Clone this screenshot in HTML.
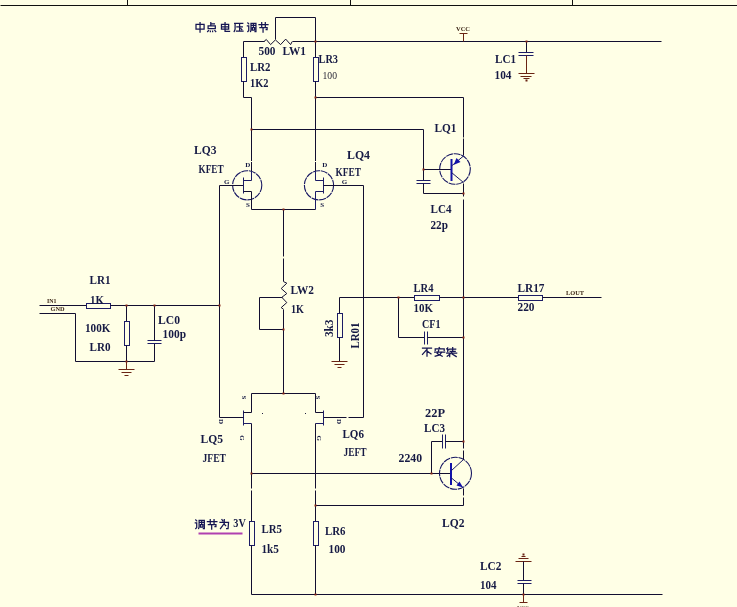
<!DOCTYPE html>
<html><head><meta charset="utf-8"><style>
html,body{margin:0;padding:0;background:#FFFFE6;}
svg{display:block;will-change:transform;}
</style></head><body>
<svg width="737" height="607" viewBox="0 0 737 607">
<rect width="737" height="607" fill="#FFFFE6"/>
<line x1="0.5" y1="5.5" x2="737.5" y2="5.5" stroke="#101010" stroke-width="1"/>
<line x1="127.5" y1="-1" x2="127.5" y2="5.5" stroke="#101010" stroke-width="1"/>
<line x1="350.5" y1="-1" x2="350.5" y2="5.5" stroke="#101010" stroke-width="1"/>
<line x1="572.5" y1="-1" x2="572.5" y2="5.5" stroke="#101010" stroke-width="1"/>
<polyline points="275.5,39.5 275.5,17.5 315.5,17.5 315.5,57.5" fill="none" stroke="#120e30" stroke-width="1"/>
<line x1="243.5" y1="41.5" x2="264.5" y2="41.5" stroke="#120e30" stroke-width="1"/>
<polyline points="264,41.5 266.3,39.5 270.6,44.6 275.4,39.9 280.6,44.6 285.7,39.1 290.6,44.6 292.2,41.5" fill="none" stroke="#120e30" stroke-width="1"/>
<line x1="292.5" y1="41.5" x2="661.5" y2="41.5" stroke="#120e30" stroke-width="1"/>
<line x1="243.5" y1="41.5" x2="243.5" y2="57.5" stroke="#120e30" stroke-width="1"/>
<rect x="241.5" y="57.5" width="5" height="24" fill="none" stroke="#1c1c66" stroke-width="1"/>
<polyline points="243.5,81.5 243.5,97.5 251.5,97.5 251.5,171.5" fill="none" stroke="#120e30" stroke-width="1"/>
<rect x="313.5" y="57.5" width="5" height="24" fill="none" stroke="#1c1c66" stroke-width="1"/>
<line x1="315.5" y1="81.5" x2="315.5" y2="171.5" stroke="#120e30" stroke-width="1"/>
<polyline points="315.5,97.5 463.5,97.5 463.5,137.5" fill="none" stroke="#120e30" stroke-width="1"/>
<line x1="463.5" y1="138.5" x2="463.5" y2="155.5" stroke="#120e30" stroke-width="1"/>
<polyline points="251.5,129.5 423.5,129.5 423.5,180.5" fill="none" stroke="#120e30" stroke-width="1"/>
<line x1="416.5" y1="180.5" x2="430.5" y2="180.5" stroke="#1c1c66" stroke-width="1"/>
<line x1="416.5" y1="183.5" x2="430.5" y2="183.5" stroke="#1c1c66" stroke-width="1"/>
<polyline points="423.5,183.5 423.5,193.5 463.5,193.5" fill="none" stroke="#120e30" stroke-width="1"/>
<line x1="526.5" y1="41.5" x2="526.5" y2="52.5" stroke="#120e30" stroke-width="1"/>
<line x1="518.5" y1="52.5" x2="533.5" y2="52.5" stroke="#1c1c66" stroke-width="1"/>
<line x1="518.5" y1="55.5" x2="533.5" y2="55.5" stroke="#1c1c66" stroke-width="1"/>
<line x1="526.5" y1="55.5" x2="526.5" y2="73.5" stroke="#6a2414" stroke-width="1"/>
<line x1="518.5" y1="73.5" x2="534.5" y2="73.5" stroke="#6a2414" stroke-width="1"/>
<line x1="520.5" y1="76.5" x2="531.5" y2="76.5" stroke="#6a2414" stroke-width="1"/>
<line x1="523.5" y1="78.5" x2="529.5" y2="78.5" stroke="#6a2414" stroke-width="1"/>
<rect x="525.5" y="79.5" width="2" height="2" fill="#6a2414"/>
<line x1="459.5" y1="33.5" x2="467.5" y2="33.5" stroke="#6a2414" stroke-width="1"/>
<line x1="463.5" y1="33.5" x2="463.5" y2="41.5" stroke="#6a2414" stroke-width="1"/>
<text x="456" y="31" font-family="Liberation Serif" font-size="6" font-weight="bold" fill="#3a2414" textLength="14" lengthAdjust="spacingAndGlyphs">VCC</text>
<circle cx="247.2" cy="185.3" r="14.6" fill="none" stroke="#161662" stroke-width="1.1" stroke-dasharray="7 0.8"/>
<polyline points="219.5,417.5 219.5,185.5 243.5,185.5" fill="none" stroke="#120e30" stroke-width="1"/>
<line x1="243.5" y1="177.5" x2="243.5" y2="193.5" stroke="#1c1c66" stroke-width="1"/>
<polyline points="243.5,180.5 251.5,180.5 251.5,171.5" fill="none" stroke="#1c1c66" stroke-width="1"/>
<polyline points="243.5,191.5 251.5,191.5 251.5,209.5 315.5,209.5" fill="none" stroke="#120e30" stroke-width="1"/>
<circle cx="319" cy="185.3" r="14.6" fill="none" stroke="#161662" stroke-width="1.1" stroke-dasharray="7 0.8"/>
<polyline points="315.5,171.5 315.5,180.5 323.5,180.5" fill="none" stroke="#1c1c66" stroke-width="1"/>
<line x1="323.5" y1="177.5" x2="323.5" y2="193.5" stroke="#1c1c66" stroke-width="1"/>
<polyline points="323.5,191.5 315.5,191.5 315.5,209.5" fill="none" stroke="#1c1c66" stroke-width="1"/>
<polyline points="323.5,185.5 363.5,185.5 363.5,417.5 348.5,417.5" fill="none" stroke="#120e30" stroke-width="1"/>
<line x1="346.5" y1="417.5" x2="323.5" y2="417.5" stroke="#120e30" stroke-width="1"/>
<circle cx="455" cy="169" r="15.3" fill="none" stroke="#161662" stroke-width="1.1" stroke-dasharray="7 0.8"/>
<line x1="423.5" y1="169.5" x2="451.5" y2="169.5" stroke="#120e30" stroke-width="1"/>
<line x1="451.5" y1="159" x2="451.5" y2="181" stroke="#1212a8" stroke-width="2"/>
<line x1="451.5" y1="166" x2="463.5" y2="156" stroke="#1c1c66" stroke-width="1"/>
<line x1="451.5" y1="172.5" x2="463.5" y2="182.5" stroke="#1c1c66" stroke-width="1"/>
<polygon points="453.5,165 456.5,158 460.5,162" fill="#1212a8"/>
<polyline points="463.5,183.5 463.5,196.5" fill="none" stroke="#120e30" stroke-width="1"/>
<line x1="463.5" y1="199.5" x2="463.5" y2="448.5" stroke="#120e30" stroke-width="1"/>
<line x1="283.5" y1="209.5" x2="283.5" y2="256.5" stroke="#120e30" stroke-width="1"/>
<line x1="283.5" y1="258.5" x2="283.5" y2="281.5" stroke="#120e30" stroke-width="1"/>
<polyline points="283.5,281.6 286.8,283.2 281.2,288.5 286.8,293.5 281.8,297.3 286.8,302.6 281.2,307.6 283.5,309.2" fill="none" stroke="#120e30" stroke-width="1"/>
<line x1="283.5" y1="309.5" x2="283.5" y2="393.5" stroke="#120e30" stroke-width="1"/>
<polyline points="282.5,297.5 259.5,297.5 259.5,329.5 283.5,329.5" fill="none" stroke="#120e30" stroke-width="1"/>
<line x1="39.5" y1="305.5" x2="86.5" y2="305.5" stroke="#120e30" stroke-width="1"/>
<rect x="86.5" y="303.5" width="24" height="5" fill="none" stroke="#1c1c66" stroke-width="1"/>
<line x1="110.5" y1="305.5" x2="219.5" y2="305.5" stroke="#120e30" stroke-width="1"/>
<line x1="126.5" y1="305.5" x2="126.5" y2="321.5" stroke="#120e30" stroke-width="1"/>
<rect x="124.5" y="321.5" width="5" height="24" fill="none" stroke="#1c1c66" stroke-width="1"/>
<line x1="126.5" y1="345.5" x2="126.5" y2="361.5" stroke="#120e30" stroke-width="1"/>
<line x1="126.5" y1="361.5" x2="126.5" y2="369.5" stroke="#6a2414" stroke-width="1"/>
<line x1="118.5" y1="369.5" x2="134.5" y2="369.5" stroke="#6a2414" stroke-width="1"/>
<line x1="121.5" y1="372.5" x2="131.5" y2="372.5" stroke="#6a2414" stroke-width="1"/>
<line x1="124.5" y1="375.5" x2="128.5" y2="375.5" stroke="#6a2414" stroke-width="1"/>
<polyline points="39.5,313.5 75.5,313.5 75.5,361.5 154.5,361.5 154.5,343.5" fill="none" stroke="#120e30" stroke-width="1"/>
<line x1="147.5" y1="340.5" x2="161.5" y2="340.5" stroke="#1c1c66" stroke-width="1"/>
<line x1="147.5" y1="343.5" x2="161.5" y2="343.5" stroke="#1c1c66" stroke-width="1"/>
<line x1="154.5" y1="340.5" x2="154.5" y2="305.5" stroke="#120e30" stroke-width="1"/>
<text x="47" y="302.5" font-family="Liberation Serif" font-size="6" font-weight="bold" fill="#3a2414" textLength="9.5" lengthAdjust="spacingAndGlyphs">IN1</text>
<text x="50.5" y="310.5" font-family="Liberation Serif" font-size="6" font-weight="bold" fill="#3a2414" textLength="14" lengthAdjust="spacingAndGlyphs">GND</text>
<line x1="339.5" y1="297.5" x2="414.5" y2="297.5" stroke="#120e30" stroke-width="1"/>
<rect x="414.5" y="295.5" width="25" height="5" fill="none" stroke="#1c1c66" stroke-width="1"/>
<line x1="439.5" y1="297.5" x2="518.5" y2="297.5" stroke="#120e30" stroke-width="1"/>
<rect x="518.5" y="295.5" width="24" height="5" fill="none" stroke="#1c1c66" stroke-width="1"/>
<line x1="542.5" y1="297.5" x2="601.5" y2="297.5" stroke="#120e30" stroke-width="1"/>
<line x1="339.5" y1="297.5" x2="339.5" y2="313.5" stroke="#120e30" stroke-width="1"/>
<rect x="337.5" y="313.5" width="5" height="24" fill="none" stroke="#1c1c66" stroke-width="1"/>
<line x1="339.5" y1="337.5" x2="339.5" y2="361.5" stroke="#120e30" stroke-width="1"/>
<line x1="331.5" y1="361.5" x2="347.5" y2="361.5" stroke="#6a2414" stroke-width="1"/>
<line x1="334.5" y1="364.5" x2="344.5" y2="364.5" stroke="#6a2414" stroke-width="1"/>
<line x1="337.5" y1="367.5" x2="341.5" y2="367.5" stroke="#6a2414" stroke-width="1"/>
<polyline points="398.5,297.5 398.5,337.5 424.5,337.5" fill="none" stroke="#120e30" stroke-width="1"/>
<line x1="424.5" y1="331.5" x2="424.5" y2="344.5" stroke="#1c1c66" stroke-width="1"/>
<line x1="427.5" y1="331.5" x2="427.5" y2="344.5" stroke="#1c1c66" stroke-width="1"/>
<line x1="427.5" y1="337.5" x2="463.5" y2="337.5" stroke="#120e30" stroke-width="1"/>
<polyline points="251.5,423.5 243.5,423.5" fill="none" stroke="#1c1c66" stroke-width="1"/>
<line x1="243.5" y1="410.5" x2="243.5" y2="425.5" stroke="#1c1c66" stroke-width="1"/>
<polyline points="243.5,412.5 251.5,412.5 251.5,393.5 315.5,393.5 315.5,412.5 323.5,412.5" fill="none" stroke="#120e30" stroke-width="1"/>
<line x1="219.5" y1="417.5" x2="243.5" y2="417.5" stroke="#120e30" stroke-width="1"/>
<line x1="323.5" y1="410.5" x2="323.5" y2="425.5" stroke="#1c1c66" stroke-width="1"/>
<polyline points="323.5,423.5 315.5,423.5" fill="none" stroke="#1c1c66" stroke-width="1"/>
<line x1="251.5" y1="423.5" x2="251.5" y2="488.5" stroke="#120e30" stroke-width="1"/>
<line x1="251.5" y1="490.5" x2="251.5" y2="521.5" stroke="#120e30" stroke-width="1"/>
<rect x="249.5" y="521.5" width="5" height="24" fill="none" stroke="#1c1c66" stroke-width="1"/>
<line x1="251.5" y1="545.5" x2="251.5" y2="594.5" stroke="#120e30" stroke-width="1"/>
<line x1="315.5" y1="423.5" x2="315.5" y2="488.5" stroke="#120e30" stroke-width="1"/>
<line x1="315.5" y1="490.5" x2="315.5" y2="521.5" stroke="#120e30" stroke-width="1"/>
<rect x="313.5" y="521.5" width="5" height="24" fill="none" stroke="#1c1c66" stroke-width="1"/>
<line x1="315.5" y1="545.5" x2="315.5" y2="594.5" stroke="#120e30" stroke-width="1"/>
<line x1="251.5" y1="594.5" x2="662.5" y2="594.5" stroke="#120e30" stroke-width="1"/>
<line x1="251.5" y1="473.5" x2="451.5" y2="473.5" stroke="#120e30" stroke-width="1"/>
<polyline points="431.5,473.5 431.5,441.5 442.5,441.5" fill="none" stroke="#120e30" stroke-width="1"/>
<line x1="442.5" y1="434.5" x2="442.5" y2="448.5" stroke="#1c1c66" stroke-width="1"/>
<line x1="445.5" y1="434.5" x2="445.5" y2="448.5" stroke="#1c1c66" stroke-width="1"/>
<line x1="445.5" y1="441.5" x2="463.5" y2="441.5" stroke="#120e30" stroke-width="1"/>
<circle cx="455.5" cy="473.3" r="16" fill="none" stroke="#161662" stroke-width="1.1" stroke-dasharray="7 0.8"/>
<line x1="451" y1="463" x2="451" y2="485" stroke="#1212a8" stroke-width="2"/>
<line x1="451.5" y1="470.5" x2="463.5" y2="459.5" stroke="#1c1c66" stroke-width="1"/>
<line x1="451.5" y1="478" x2="463.5" y2="488" stroke="#1c1c66" stroke-width="1"/>
<polygon points="459.5,481.5 463,487.5 456.5,485.5" fill="#1212a8"/>
<line x1="463.5" y1="450.5" x2="463.5" y2="459.5" stroke="#120e30" stroke-width="1"/>
<line x1="463.5" y1="488.5" x2="463.5" y2="495.5" stroke="#120e30" stroke-width="1"/>
<line x1="463.5" y1="497.5" x2="463.5" y2="505.5" stroke="#120e30" stroke-width="1"/>
<line x1="315.5" y1="505.5" x2="463.5" y2="505.5" stroke="#120e30" stroke-width="1"/>
<line x1="515.5" y1="561.5" x2="531.5" y2="561.5" stroke="#6a2414" stroke-width="1"/>
<line x1="518.5" y1="558.5" x2="528.5" y2="558.5" stroke="#6a2414" stroke-width="1"/>
<line x1="521.5" y1="556.5" x2="525.5" y2="556.5" stroke="#6a2414" stroke-width="1"/>
<rect x="522.5" y="553.5" width="2" height="2" fill="#6a2414"/>
<line x1="523.5" y1="561.5" x2="523.5" y2="580.5" stroke="#120e30" stroke-width="1"/>
<line x1="517.5" y1="580.5" x2="531.5" y2="580.5" stroke="#1c1c66" stroke-width="1"/>
<line x1="517.5" y1="583.5" x2="531.5" y2="583.5" stroke="#1c1c66" stroke-width="1"/>
<line x1="523.5" y1="583.5" x2="523.5" y2="594.5" stroke="#120e30" stroke-width="1"/>
<line x1="523.5" y1="594.5" x2="523.5" y2="602.5" stroke="#6a2414" stroke-width="1"/>
<line x1="519.5" y1="602.5" x2="527.5" y2="602.5" stroke="#6a2414" stroke-width="1"/>
<text x="517" y="610" font-family="Liberation Serif" font-size="7" font-weight="bold" fill="#6a5040" textLength="12" lengthAdjust="spacingAndGlyphs">VSS</text>
<rect x="251" y="161" width="1" height="1" fill="#FFFFE6"/>
<rect x="315" y="161" width="1" height="1" fill="#FFFFE6"/>
<rect x="314.5" y="40.5" width="2" height="2" fill="#8a2a18"/>
<rect x="525.5" y="40.5" width="2" height="2" fill="#8a2a18"/>
<rect x="250.5" y="128.5" width="2" height="2" fill="#8a2a18"/>
<rect x="314.5" y="96.5" width="2" height="2" fill="#8a2a18"/>
<rect x="422.5" y="168.5" width="2" height="2" fill="#8a2a18"/>
<rect x="462.5" y="192.5" width="2" height="2" fill="#8a2a18"/>
<rect x="282.5" y="208.5" width="2" height="2" fill="#8a2a18"/>
<rect x="218.5" y="304.5" width="2" height="2" fill="#8a2a18"/>
<rect x="125.5" y="304.5" width="2" height="2" fill="#8a2a18"/>
<rect x="153.5" y="304.5" width="2" height="2" fill="#8a2a18"/>
<rect x="282.5" y="328.5" width="2" height="2" fill="#8a2a18"/>
<rect x="397.5" y="296.5" width="2" height="2" fill="#8a2a18"/>
<rect x="462.5" y="296.5" width="2" height="2" fill="#8a2a18"/>
<rect x="462.5" y="336.5" width="2" height="2" fill="#8a2a18"/>
<rect x="282.5" y="392.5" width="2" height="2" fill="#8a2a18"/>
<rect x="462.5" y="440.5" width="2" height="2" fill="#8a2a18"/>
<rect x="430.5" y="472.5" width="2" height="2" fill="#8a2a18"/>
<rect x="250.5" y="472.5" width="2" height="2" fill="#8a2a18"/>
<rect x="314.5" y="504.5" width="2" height="2" fill="#8a2a18"/>
<rect x="314.5" y="593.5" width="2" height="2" fill="#8a2a18"/>
<rect x="522.5" y="593.5" width="2" height="2" fill="#8a2a18"/>
<rect x="125.5" y="360.5" width="2" height="2" fill="#8a2a18"/>
<text x="258.5" y="55" font-family="Liberation Serif" font-size="12" font-weight="bold" fill="#161a44" textLength="17" lengthAdjust="spacingAndGlyphs">500</text>
<text x="282.5" y="55" font-family="Liberation Serif" font-size="12" font-weight="bold" fill="#161a44" textLength="23.5" lengthAdjust="spacingAndGlyphs">LW1</text>
<text x="250" y="71" font-family="Liberation Serif" font-size="12" font-weight="bold" fill="#161a44" textLength="20.5" lengthAdjust="spacingAndGlyphs">LR2</text>
<text x="250" y="87" font-family="Liberation Serif" font-size="12" font-weight="bold" fill="#161a44" textLength="18.5" lengthAdjust="spacingAndGlyphs">1K2</text>
<text x="318.5" y="63" font-family="Liberation Serif" font-size="12" font-weight="bold" fill="#161a44" textLength="19.5" lengthAdjust="spacingAndGlyphs">LR3</text>
<text x="322.5" y="79" font-family="Liberation Serif" font-size="10" font-weight="normal" fill="#2a2838" textLength="14.5" lengthAdjust="spacingAndGlyphs">100</text>
<text x="495" y="62.5" font-family="Liberation Serif" font-size="12" font-weight="bold" fill="#161a44" textLength="21" lengthAdjust="spacingAndGlyphs">LC1</text>
<text x="494.5" y="79" font-family="Liberation Serif" font-size="12" font-weight="bold" fill="#161a44" textLength="17" lengthAdjust="spacingAndGlyphs">104</text>
<text x="194" y="154" font-family="Liberation Serif" font-size="12" font-weight="bold" fill="#161a44" textLength="22.5" lengthAdjust="spacingAndGlyphs">LQ3</text>
<text x="198.5" y="173" font-family="Liberation Serif" font-size="12" font-weight="bold" fill="#161a44" textLength="25" lengthAdjust="spacingAndGlyphs">KFET</text>
<text x="347" y="159" font-family="Liberation Serif" font-size="12" font-weight="bold" fill="#161a44" textLength="23" lengthAdjust="spacingAndGlyphs">LQ4</text>
<text x="335.5" y="176" font-family="Liberation Serif" font-size="12" font-weight="bold" fill="#161a44" textLength="25.5" lengthAdjust="spacingAndGlyphs">KFET</text>
<text x="434.5" y="132" font-family="Liberation Serif" font-size="12" font-weight="bold" fill="#161a44" textLength="22" lengthAdjust="spacingAndGlyphs">LQ1</text>
<text x="430.5" y="212.5" font-family="Liberation Serif" font-size="12" font-weight="bold" fill="#161a44" textLength="21" lengthAdjust="spacingAndGlyphs">LC4</text>
<text x="430.5" y="229" font-family="Liberation Serif" font-size="12" font-weight="bold" fill="#161a44" textLength="17.5" lengthAdjust="spacingAndGlyphs">22p</text>
<text x="89.5" y="284" font-family="Liberation Serif" font-size="12" font-weight="bold" fill="#161a44" textLength="21" lengthAdjust="spacingAndGlyphs">LR1</text>
<text x="90" y="304" font-family="Liberation Serif" font-size="12" font-weight="bold" fill="#161a44" textLength="14" lengthAdjust="spacingAndGlyphs">1K</text>
<text x="85" y="332" font-family="Liberation Serif" font-size="12" font-weight="bold" fill="#161a44" textLength="25.5" lengthAdjust="spacingAndGlyphs">100K</text>
<text x="89.5" y="351" font-family="Liberation Serif" font-size="12" font-weight="bold" fill="#161a44" textLength="21" lengthAdjust="spacingAndGlyphs">LR0</text>
<text x="158" y="324" font-family="Liberation Serif" font-size="12" font-weight="bold" fill="#161a44" textLength="22" lengthAdjust="spacingAndGlyphs">LC0</text>
<text x="162.5" y="338" font-family="Liberation Serif" font-size="12" font-weight="bold" fill="#161a44" textLength="23.5" lengthAdjust="spacingAndGlyphs">100p</text>
<text x="290.5" y="294" font-family="Liberation Serif" font-size="12" font-weight="bold" fill="#161a44" textLength="23.5" lengthAdjust="spacingAndGlyphs">LW2</text>
<text x="291" y="313" font-family="Liberation Serif" font-size="12" font-weight="bold" fill="#161a44" textLength="13" lengthAdjust="spacingAndGlyphs">1K</text>
<text x="413.5" y="291.5" font-family="Liberation Serif" font-size="12" font-weight="bold" fill="#161a44" textLength="20" lengthAdjust="spacingAndGlyphs">LR4</text>
<text x="413.5" y="312" font-family="Liberation Serif" font-size="12" font-weight="bold" fill="#161a44" textLength="19.5" lengthAdjust="spacingAndGlyphs">10K</text>
<text x="422" y="328" font-family="Liberation Serif" font-size="12" font-weight="bold" fill="#161a44" textLength="18.5" lengthAdjust="spacingAndGlyphs">CF1</text>
<text x="517.5" y="292" font-family="Liberation Serif" font-size="12" font-weight="bold" fill="#161a44" textLength="27" lengthAdjust="spacingAndGlyphs">LR17</text>
<text x="517.5" y="311" font-family="Liberation Serif" font-size="12" font-weight="bold" fill="#161a44" textLength="17" lengthAdjust="spacingAndGlyphs">220</text>
<text x="566" y="294.5" font-family="Liberation Serif" font-size="6" font-weight="bold" fill="#3a2414" textLength="18" lengthAdjust="spacingAndGlyphs">LOUT</text>
<text x="425" y="417" font-family="Liberation Serif" font-size="12" font-weight="bold" fill="#161a44" textLength="20" lengthAdjust="spacingAndGlyphs">22P</text>
<text x="424" y="432" font-family="Liberation Serif" font-size="12" font-weight="bold" fill="#161a44" textLength="21" lengthAdjust="spacingAndGlyphs">LC3</text>
<text x="398.5" y="461.5" font-family="Liberation Serif" font-size="12" font-weight="bold" fill="#161a44" textLength="23.5" lengthAdjust="spacingAndGlyphs">2240</text>
<text x="200.5" y="443" font-family="Liberation Serif" font-size="12" font-weight="bold" fill="#161a44" textLength="22.5" lengthAdjust="spacingAndGlyphs">LQ5</text>
<text x="202.5" y="462" font-family="Liberation Serif" font-size="12" font-weight="bold" fill="#161a44" textLength="23.5" lengthAdjust="spacingAndGlyphs">JFET</text>
<text x="342.5" y="438" font-family="Liberation Serif" font-size="12" font-weight="bold" fill="#161a44" textLength="21.5" lengthAdjust="spacingAndGlyphs">LQ6</text>
<text x="343.5" y="456" font-family="Liberation Serif" font-size="12" font-weight="bold" fill="#161a44" textLength="23" lengthAdjust="spacingAndGlyphs">JEFT</text>
<text x="442" y="527" font-family="Liberation Serif" font-size="12" font-weight="bold" fill="#161a44" textLength="22.5" lengthAdjust="spacingAndGlyphs">LQ2</text>
<text x="261.5" y="533" font-family="Liberation Serif" font-size="12" font-weight="bold" fill="#161a44" textLength="20.5" lengthAdjust="spacingAndGlyphs">LR5</text>
<text x="261.5" y="553" font-family="Liberation Serif" font-size="12" font-weight="bold" fill="#161a44" textLength="17.5" lengthAdjust="spacingAndGlyphs">1k5</text>
<text x="325" y="535" font-family="Liberation Serif" font-size="12" font-weight="bold" fill="#161a44" textLength="20.5" lengthAdjust="spacingAndGlyphs">LR6</text>
<text x="328.5" y="553" font-family="Liberation Serif" font-size="12" font-weight="bold" fill="#161a44" textLength="17" lengthAdjust="spacingAndGlyphs">100</text>
<text x="480" y="570" font-family="Liberation Serif" font-size="12" font-weight="bold" fill="#161a44" textLength="21.5" lengthAdjust="spacingAndGlyphs">LC2</text>
<text x="480" y="589" font-family="Liberation Serif" font-size="12" font-weight="bold" fill="#161a44" textLength="16.5" lengthAdjust="spacingAndGlyphs">104</text>
<text transform="translate(333.3,337) rotate(-90)" font-family="Liberation Serif" font-size="12" font-weight="bold" fill="#161a44" textLength="17.5" lengthAdjust="spacingAndGlyphs">3k3</text>
<text transform="translate(358.6,348.5) rotate(-90)" font-family="Liberation Serif" font-size="13" font-weight="bold" fill="#161a44" textLength="26" lengthAdjust="spacingAndGlyphs">LR01</text>
<text transform="translate(247.7,164.7) rotate(0)" x="0" y="2.2" text-anchor="middle" font-family="Liberation Serif" font-size="7" font-weight="bold" fill="#161a44">D</text>
<text transform="translate(226.7,181.5) rotate(0)" x="0" y="2.2" text-anchor="middle" font-family="Liberation Serif" font-size="7" font-weight="bold" fill="#161a44">G</text>
<text transform="translate(248,204.3) rotate(0)" x="0" y="2.2" text-anchor="middle" font-family="Liberation Serif" font-size="7" font-weight="bold" fill="#161a44">S</text>
<text transform="translate(324.7,164.8) rotate(0)" x="0" y="2.2" text-anchor="middle" font-family="Liberation Serif" font-size="7" font-weight="bold" fill="#161a44">D</text>
<text transform="translate(344.5,181.6) rotate(0)" x="0" y="2.2" text-anchor="middle" font-family="Liberation Serif" font-size="7" font-weight="bold" fill="#161a44">G</text>
<text transform="translate(322.3,204.5) rotate(0)" x="0" y="2.2" text-anchor="middle" font-family="Liberation Serif" font-size="7" font-weight="bold" fill="#161a44">S</text>
<text transform="translate(244.2,397.5) rotate(90)" x="0" y="2.2" text-anchor="middle" font-family="Liberation Serif" font-size="7" font-weight="bold" fill="#161a44">S</text>
<text transform="translate(221.7,421.5) rotate(90)" x="0" y="2.2" text-anchor="middle" font-family="Liberation Serif" font-size="7" font-weight="bold" fill="#161a44">D</text>
<text transform="translate(242.6,438) rotate(90)" x="0" y="2.2" text-anchor="middle" font-family="Liberation Serif" font-size="7" font-weight="bold" fill="#161a44">G</text>
<text transform="translate(318.4,397.5) rotate(90)" x="0" y="2.2" text-anchor="middle" font-family="Liberation Serif" font-size="7" font-weight="bold" fill="#161a44">S</text>
<text transform="translate(339.6,421.5) rotate(90)" x="0" y="2.2" text-anchor="middle" font-family="Liberation Serif" font-size="7" font-weight="bold" fill="#161a44">D</text>
<text transform="translate(319.7,438.2) rotate(90)" x="0" y="2.2" text-anchor="middle" font-family="Liberation Serif" font-size="7" font-weight="bold" fill="#161a44">G</text>
<rect x="262" y="413" width="1" height="1" fill="#202040"/><rect x="305" y="413" width="1" height="1" fill="#202040"/>
<text x="233.3" y="526.6" font-family="Liberation Serif" font-size="12" font-weight="bold" fill="#161a44" textLength="12.6" lengthAdjust="spacingAndGlyphs">3V</text>
<line x1="198.5" y1="533.5" x2="242.5" y2="533.5" stroke="#b040b0" stroke-width="2"/>
<path d="M196.00,24.40 L204.10,24.40 L204.10,29.15 L196.00,29.15 L196.00,24.40 M200.05,22.50 L200.05,32.00" fill="none" stroke="#151552" stroke-width="1.25" stroke-linecap="square"/>
<path d="M210.80,22.50 L210.80,25.35 M210.80,23.93 L214.40,23.93 M208.10,25.82 L215.30,25.82 L215.30,28.68 L208.10,28.68 L208.10,25.82 M207.65,31.52 L208.55,30.57 M210.35,31.05 L210.35,31.52 M212.60,31.05 L212.60,31.52 M214.85,30.57 L215.75,31.52" fill="none" stroke="#151552" stroke-width="1.25" stroke-linecap="square"/>
<path d="M221.45,24.40 L228.65,24.40 L228.65,29.15 L221.45,29.15 L221.45,24.40 M221.45,26.77 L228.65,26.77 M225.05,22.50 L225.05,31.34 L229.55,31.34" fill="none" stroke="#151552" stroke-width="1.25" stroke-linecap="square"/>
<path d="M234.65,23.45 L242.75,23.45 M235.10,23.45 L235.10,29.15 L234.20,31.52 M236.90,26.77 L242.30,26.77 M239.60,24.40 L239.60,31.05 M236.45,31.24 L243.02,31.24 M240.95,28.68 L241.85,29.62" fill="none" stroke="#151552" stroke-width="1.25" stroke-linecap="square"/>
<path d="M247.85,22.98 L248.75,23.93 M247.40,25.82 L248.75,25.82 L248.75,30.57 L247.85,31.52 M250.55,31.52 L251.00,30.10 L251.00,23.26 L255.95,23.26 L255.95,31.52 L255.05,31.52 M251.90,25.35 L255.05,25.35 M253.43,23.93 L253.43,26.77 M252.35,27.73 L254.60,27.73 L254.60,30.10 L252.35,30.10 L252.35,27.73" fill="none" stroke="#151552" stroke-width="1.25" stroke-linecap="square"/>
<path d="M259.00,24.59 L268.00,24.59 M261.70,22.50 L261.70,26.30 M265.30,22.50 L265.30,26.30 M259.90,27.54 L267.10,27.54 L267.10,29.62 L266.20,29.62 M263.05,27.54 L263.05,32.00" fill="none" stroke="#151552" stroke-width="1.25" stroke-linecap="square"/>
<path d="M422.50,348.24 L431.50,348.24 M427.00,348.42 L427.00,356.24 M426.50,349.80 L422.50,354.40 M428.00,351.64 L431.00,353.94" fill="none" stroke="#151552" stroke-width="1.25" stroke-linecap="square"/>
<path d="M439.20,347.50 L439.70,348.42 M435.20,350.26 L435.20,348.88 L444.20,348.88 L444.20,350.26 M434.70,352.10 L444.70,352.10 M438.70,350.26 L437.20,353.48 L442.20,356.24 M441.70,352.10 L439.70,354.86 L435.20,356.24" fill="none" stroke="#151552" stroke-width="1.25" stroke-linecap="square"/>
<path d="M447.70,347.96 L447.70,351.64 M446.70,348.88 L448.70,349.80 M449.70,349.16 L455.70,349.16 M452.70,347.50 L452.70,351.18 M450.20,351.36 L455.20,351.36 M446.70,353.02 L456.70,353.02 M451.70,352.10 L451.70,353.02 M451.20,353.02 L447.20,356.24 M449.70,354.86 L449.70,356.70 M452.20,353.94 L456.20,356.52" fill="none" stroke="#151552" stroke-width="1.25" stroke-linecap="square"/>
<path d="M195.78,519.98 L196.73,520.92 M195.30,522.83 L196.73,522.83 L196.73,527.58 L195.78,528.52 M198.62,528.52 L199.10,527.10 L199.10,520.26 L204.33,520.26 L204.33,528.52 L203.38,528.52 M200.05,522.35 L203.38,522.35 M201.67,520.92 L201.67,523.77 M200.53,524.73 L202.90,524.73 L202.90,527.10 L200.53,527.10 L200.53,524.73" fill="none" stroke="#151552" stroke-width="1.25" stroke-linecap="square"/>
<path d="M207.40,521.59 L216.90,521.59 M210.25,519.50 L210.25,523.30 M214.05,519.50 L214.05,523.30 M208.35,524.53 L215.95,524.53 L215.95,526.62 L215.00,526.62 M211.68,524.53 L211.68,529.00" fill="none" stroke="#151552" stroke-width="1.25" stroke-linecap="square"/>
<path d="M221.90,519.50 L222.85,520.92 M220.00,522.35 L228.55,522.35 L228.07,528.52 L226.65,528.52 M224.28,519.50 L224.28,523.30 L220.47,528.52 M224.75,524.73 L225.70,525.67" fill="none" stroke="#151552" stroke-width="1.25" stroke-linecap="square"/>
</svg></body></html>
